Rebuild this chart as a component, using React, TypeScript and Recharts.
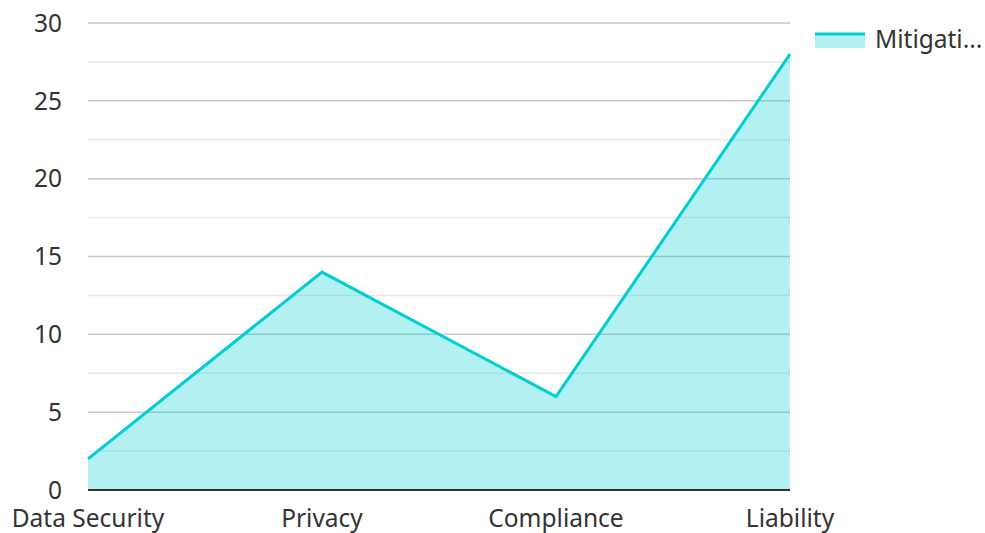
import { AreaChart, Area, XAxis, YAxis, CartesianGrid, Legend } from "recharts";

const categories = ["Data Security", "Privacy", "Compliance", "Liability"];
const mitigation = [2, 14, 6, 28];
const yTicks = [0, 5, 10, 15, 20, 25, 30];
const minorTicks = [2.5, 7.5, 12.5, 17.5, 22.5, 27.5];
const seriesLabel = "Mitigati...";

const data = categories.map((name, i) => ({ name, value: mitigation[i] }));

const LINE = "#00CED1";
const FONT = "'Noto Sans', 'Open Sans', sans-serif";
const FS = 24.5;

function LegendBox() {
    return (
        <div style={{ display: "flex", alignItems: "center", fontFamily: FONT, fontSize: FS, color: "#333", lineHeight: 1 }}>
            <svg width={50} height={18} style={{ marginRight: 10 }}>
                <rect x={0} y={3} width={50} height={15} fill={LINE} fillOpacity={0.3} />
                <line x1={0} x2={50} y1={4} y2={4} stroke={LINE} strokeWidth={3} />
            </svg>
            <span>{seriesLabel}</span>
        </div>
    );
}

export default function App() {
    return (
        <div style={{ position: "absolute", left: 0, top: 0, background: "#fff" }}>
            <AreaChart width={985} height={533} data={data} margin={{ top: 23, right: 25, bottom: 13, left: 0 }}>
                <CartesianGrid vertical={false} horizontalValues={minorTicks} stroke="#e8e8e8" strokeWidth={1.5} />
                <CartesianGrid vertical={false} stroke="#c8c8c8" strokeWidth={1.5} />
                <XAxis
                    dataKey="name"
                    padding={{ left: 0, right: 0 }}
                    tickLine={false}
                    axisLine={{ stroke: "#333", strokeWidth: 2 }}
                    tickMargin={14}
                    tick={{ fill: "#333", fontSize: FS, fontFamily: FONT }}
                    interval={0}
                />
                <YAxis
                    width={88}
                    domain={[0, 30]}
                    ticks={yTicks}
                    axisLine={false}
                    tickLine={false}
                    tickMargin={20}
                    tick={{ fill: "#333", fontSize: FS, fontFamily: FONT }}
                />
                <Legend
                    layout="vertical"
                    align="right"
                    verticalAlign="top"
                    wrapperStyle={{ top: 27, right: 0, width: 170 }}
                    content={() => <LegendBox />}
                />
                <Area
                    type="linear"
                    dataKey="value"
                    name={seriesLabel}
                    stroke={LINE}
                    strokeWidth={3}
                    fill={LINE}
                    fillOpacity={0.3}
                    dot={false}
                    activeDot={false}
                    isAnimationActive={false}
                />
            </AreaChart>
        </div>
    );
}
